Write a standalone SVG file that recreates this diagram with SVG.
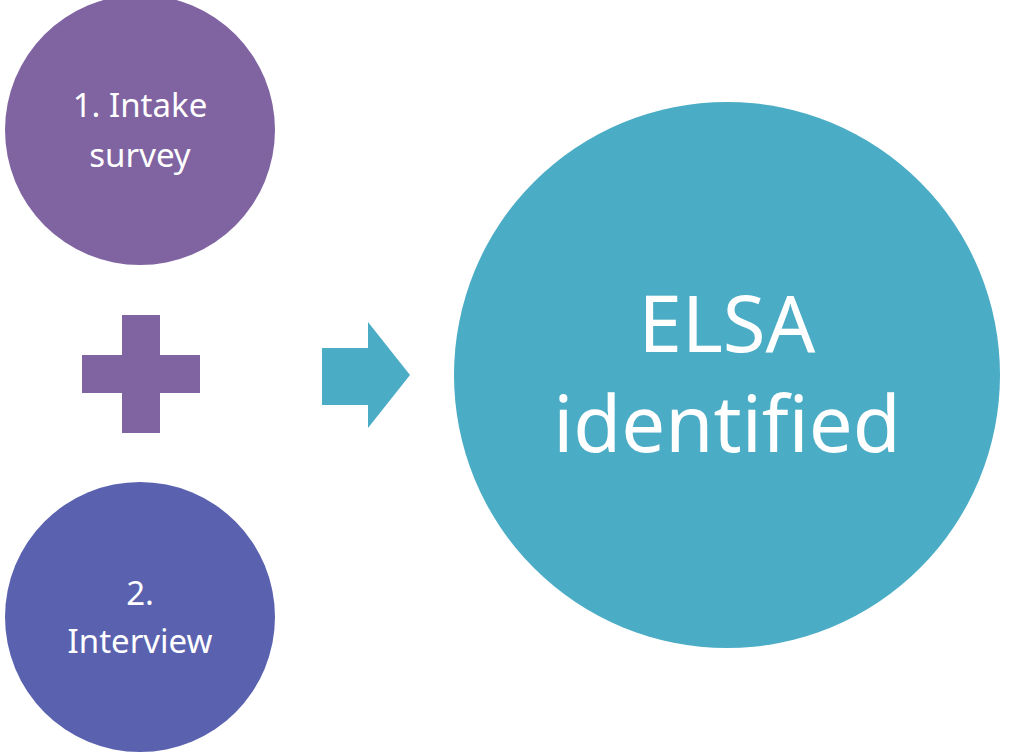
<svg xmlns="http://www.w3.org/2000/svg" width="1014" height="752" viewBox="0 0 1014 752">
<style>
text{font-family:"Noto Sans","Open Sans",sans-serif;fill:#fff;text-anchor:middle}
.s{font-size:33px}
.b{font-size:78px}
</style>
<rect width="1014" height="752" fill="#fff"/>
<g id="connectors">
<g id="plus" fill="#8064a2"><rect x="122" y="315" width="38" height="118"/><rect x="82" y="355" width="118" height="38"/></g>
<path id="arrow" d="M322 348H368V322L410 375L368 428V405H322Z" fill="#4bacc6"/>
</g>
<g id="n1"><circle cx="140" cy="130" r="135" fill="#8064a2"/><text class="s" x="140" y="117">1. Intake</text><text class="s" x="140" y="167">survey</text></g>
<g id="n2"><circle cx="140" cy="617" r="135" fill="#5a62b0"/><text class="s" x="140" y="605">2.</text><text class="s" x="140" y="653">Interview</text></g>
<g id="n3"><circle cx="727" cy="375" r="273" fill="#4bacc6"/><text class="b" x="727" y="352">ELSA</text><text class="b" x="727" y="452">identified</text></g>
</svg>
